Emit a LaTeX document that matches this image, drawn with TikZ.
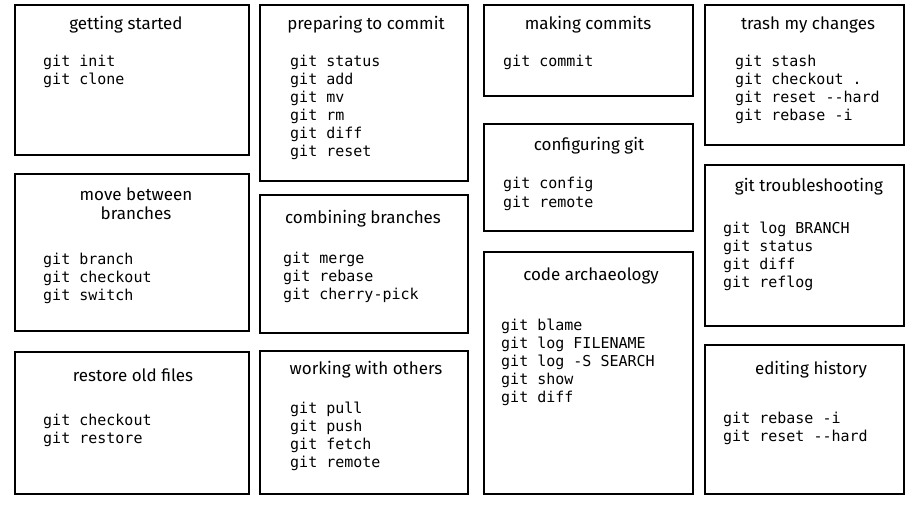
\documentclass[tikz,border=0pt]{standalone}
\usepackage{fontspec}
\setmainfont{Fira Sans}
\setmonofont{DejaVu Sans Mono}
\begin{document}
\begin{tikzpicture}[x=1pt,y=-1pt,
  card/.style={draw=black,line width=1.6pt},
  ttl/.style={anchor=base,font=\fontsize{17}{20}\selectfont,align=center},
  cmd/.style={anchor=base west,font=\ttfamily\fontsize{15}{18}\selectfont,inner sep=0pt}]
\useasboundingbox[fill=white] (0,0) rectangle (917,505);
\newcommand\card[5]{% name x1 y1 x2 y2
  \draw[card] (#2,#3) rectangle (#4,#5);
  \coordinate (#1) at ({(#2+#4)/2},#3);}
% col 1
\card{gs}{15}{5}{249}{155}
\node[ttl] (gst) at (126,30) {getting started};
\node[cmd] (gs1) at (43,67) {git init};
\node[cmd] (gs2) at (43,85) {git clone};
\card{mb}{15}{174}{249}{331}
\node[ttl] (mbt) at (136,200) {move between};
\node[ttl] (mbt2) at (136,219) {branches};
\node[cmd] (mb1) at (43,264) {git branch};
\node[cmd] (mb2) at (43,282) {git checkout};
\node[cmd] (mb3) at (43,300) {git switch};
\card{ro}{15}{352}{249}{494}
\node[ttl] (rot) at (133,381) {restore old files};
\node[cmd] (ro1) at (43,425) {git checkout};
\node[cmd] (ro2) at (43,443) {git restore};
% col 2
\card{pc}{260}{5}{468}{181}
\node[ttl] (pct) at (366,30) {preparing to commit};
\foreach \t [count=\i] in {git status,git add,git mv,git rm,git diff,git reset}
  \node[cmd] (pc\i) at (290,{49+18*\i}) {\t};
\card{cb}{260}{195}{468}{333}
\node[ttl] (cbt) at (363,223) {combining branches};
\node[cmd] (cb1) at (283,263) {git merge};
\node[cmd] (cb2) at (283,281) {git rebase};
\node[cmd] (cb3) at (283,299) {git cherry-pick};
\card{wo}{260}{351}{468}{494}
\node[ttl] (wot) at (366,374) {working with others};
\foreach \t [count=\i] in {git pull,git push,git fetch,git remote}
  \node[cmd] (wo\i) at (290,{395+18*\i}) {\t};
% col 3
\card{mc}{484}{5}{693}{96}
\node[ttl] (mct) at (588,30) {making commits};
\node[cmd] (mc1) at (503,67) {git commit};
\card{cg}{484}{124}{693}{231}
\node[ttl] (cgt) at (589,150) {configuring git};
\node[cmd] (cg1) at (503,189) {git config};
\node[cmd] (cg2) at (503,207) {git remote};
\card{ca}{484}{252}{693}{494}
\node[ttl] (cat) at (591,280) {code archaeology};
\foreach \t [count=\i] in {git blame,git log FILENAME,git log -S SEARCH,git show,git diff}
  \node[cmd] (ca\i) at (501,{312+18*\i}) {\t};
% col 4
\card{tr}{705}{5}{904}{145}
\node[ttl] (trt) at (808,30) {trash my changes};
\foreach \t [count=\i] in {git stash,git checkout .,git reset --hard,git rebase -i}
  \node[cmd] (tr\i) at (735,{49+18*\i}) {\t};
\card{gt}{705}{165}{904}{326}
\node[ttl] (gtt) at (809,191) {git troubleshooting};
\foreach \t [count=\i] in {git log BRANCH,git status,git diff,git reflog}
  \node[cmd] (gt\i) at (723,{215+18*\i}) {\t};
\card{eh}{705}{345}{904}{494}
\node[ttl] (eht) at (811,374) {editing history};
\node[cmd] (eh1) at (723,423) {git rebase -i};
\node[cmd] (eh2) at (723,441) {git reset --hard};
\end{tikzpicture}
\end{document}
